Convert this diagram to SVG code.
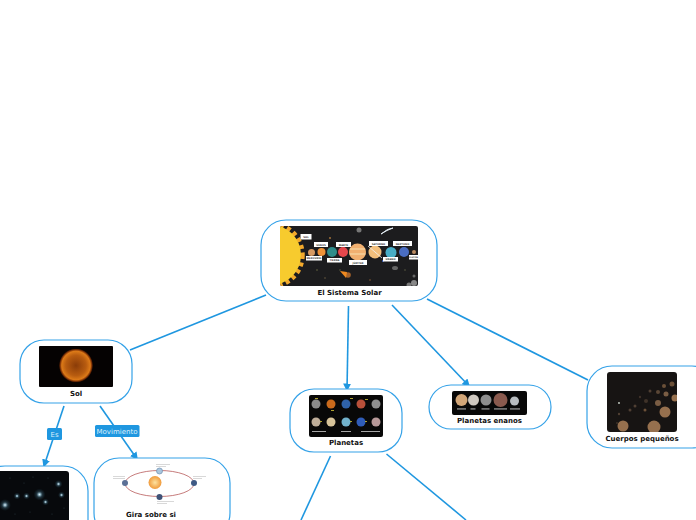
<svg xmlns="http://www.w3.org/2000/svg" width="696" height="520" viewBox="0 0 696 520">
<style>
.box{fill:#fff;stroke:#35a2e8;stroke-width:1.200}
.t{font:bold 7px "DejaVu Sans",sans-serif;fill:#111;text-anchor:middle}
.c{stroke:#1f97e0;stroke-width:1.600;fill:none;marker-end:url(#a)}
.n{stroke:#1f97e0;stroke-width:1.600;fill:none}
.lb{fill:#1f97e0}
.lt{font:7px "DejaVu Sans",sans-serif;fill:#dceffb;text-anchor:middle}
.tag{fill:#fff}
.tt{font:bold 2.500px "DejaVu Sans",sans-serif;fill:#333;text-anchor:middle}
.cap{fill:#cfcfcf}
.gc{fill:#c8c8c8}
.ym{fill:#d8c83a}
</style>
<defs>
<marker id="a" viewBox="0 0 8 8" refX="6.500" refY="4" markerWidth="8" markerHeight="8" markerUnits="userSpaceOnUse" orient="auto"><path d="M0 0L8 4L0 8z" fill="#1f97e0"/></marker>
<radialGradient id="sun"><stop offset="0" stop-color="#8a3c08"/><stop offset=".6" stop-color="#b85c10"/><stop offset=".84" stop-color="#dc7a18"/><stop offset=".93" stop-color="#7c3006"/><stop offset="1" stop-color="#140601"/></radialGradient>
<radialGradient id="ss"><stop offset="0" stop-color="#fde2a0"/><stop offset="1" stop-color="#f09a3a"/></radialGradient>
<radialGradient id="st"><stop offset="0" stop-color="#dfe9ee"/><stop offset=".18" stop-color="#8fb2c2"/><stop offset=".5" stop-color="#3a5c6c" stop-opacity=".5"/><stop offset="1" stop-color="#1a3a48" stop-opacity="0"/></radialGradient>
<clipPath id="c1"><rect x="280" y="226" width="138" height="60" rx="2"/></clipPath>
<clipPath id="c2"><rect x="607" y="372" width="70" height="60" rx="3"/></clipPath>
</defs>
<g id="connectors">
<path class="n" d="M266 295L130 350"/>
<path class="c" d="M348.500 306L347 390"/>
<path class="c" d="M392 305L469 386"/>
<path class="n" d="M427 299L588 380"/>
<path class="c" d="M64 406L44 466"/>
<path class="c" d="M100 406L137 459"/>
<path class="n" d="M330.500 456L301 520"/>
<path class="n" d="M386.500 454L466 520"/>
</g>
<g id="label-es"><rect class="lb" x="47" y="428" width="15" height="12" rx="1.500"/><text class="lt" x="54.500" y="436.500">Es</text></g>
<g id="label-movimiento"><rect class="lb" x="95" y="425" width="44.500" height="12" rx="1.500"/><text class="lt" x="117" y="433.500">Movimiento</text></g>
<g id="node-root">
<rect class="box" x="261" y="220" width="176" height="81" rx="25"/>
<rect x="280" y="226" width="138" height="60" rx="2" fill="#1c1c1e"/>
<g clip-path="url(#c1)">
<circle cx="271" cy="255" r="31.500" fill="none" stroke="#f3a92c" stroke-width="4.500" stroke-dasharray="4 3.500"/>
<circle cx="271" cy="255" r="30" fill="#f7cb2e"/>
<circle cx="359" cy="230" r="2.500" fill="#777"/>
<path d="M381 234Q388 228 393 228Q387 230 381 234z" fill="#dfe8ee" stroke="#dfe8ee" stroke-width="1"/>
<circle cx="348" cy="275" r="2.800" fill="#a5622a"/><path d="M340 271L347 272L346 278z" fill="#f08a20"/>
<ellipse cx="395" cy="268" rx="3" ry="2" fill="#666"/><circle cx="383" cy="261" r="1" fill="#3a5fc0"/>
<circle cx="409" cy="285" r="2.500" fill="#777"/><circle cx="414" cy="283" r="3" fill="#888"/><circle cx="414" cy="276" r="1.500" fill="#666"/>
<circle cx="330" cy="238" r="1" fill="#a0703a"/><circle cx="340" cy="270" r=".7" fill="#6a6a4a"/><circle cx="370" cy="280" r=".7" fill="#a06a3a"/><circle cx="405" cy="270" r=".7" fill="#6a6a4a"/><circle cx="317" cy="270" r=".7" fill="#7a7a4a"/><circle cx="325" cy="278" r=".7" fill="#7a6a4a"/>
</g>
<circle cx="311.500" cy="252.500" r="3.500" fill="#d69a62"/>
<circle cx="321.500" cy="252" r="4" fill="#ee9238"/>
<circle cx="332" cy="252" r="5" fill="#2f8c8a"/>
<circle cx="343" cy="252" r="5" fill="#e6474c"/>
<circle cx="357.500" cy="252" r="8.500" fill="#f1b070"/>
<path d="M350 249h15M349.500 254h16" stroke="#f8e0b0" stroke-width="1.200"/>
<circle cx="375" cy="252" r="6.500" fill="#f3bf7c"/>
<path d="M368 246L382 258" stroke="#f2f2f2" stroke-width=".8"/>
<circle cx="391" cy="252.500" r="5.500" fill="#48adc6"/>
<circle cx="404" cy="252" r="5" fill="#4a6dc2"/>
<circle cx="414" cy="252" r="2" fill="#b98a60"/>
<rect class="tag" x="300.500" y="234" width="11" height="5.500"/><text class="tt" x="306" y="237.800">SOL</text>
<rect class="tag" x="314" y="242" width="14" height="5"/><text class="tt" x="321" y="245.500">VENUS</text>
<rect class="tag" x="336" y="242" width="15" height="5"/><text class="tt" x="343.500" y="245.500">MARTE</text>
<rect class="tag" x="369" y="241" width="19" height="5"/><text class="tt" x="378.500" y="244.500">SATURNO</text>
<rect class="tag" x="393" y="241" width="19" height="5"/><text class="tt" x="402.500" y="244.500">NEPTUNO</text>
<rect class="tag" x="306" y="256" width="16" height="4.500"/><text class="tt" x="314" y="259.300">MERCURIO</text>
<rect class="tag" x="327" y="258" width="15" height="4.500"/><text class="tt" x="334.500" y="261.300">TIERRA</text>
<rect class="tag" x="349" y="260" width="18" height="5"/><text class="tt" x="358" y="263.500">JÚPITER</text>
<rect class="tag" x="383" y="257" width="15" height="4.500"/><text class="tt" x="390.500" y="260.300">URANO</text>
<rect class="tag" x="409" y="255" width="9" height="4.500"/><text class="tt" x="413.500" y="258.200" style="font-size:2px">PLUTÓN</text>
<text class="t" x="349.500" y="295">El Sistema Solar</text>
</g>
<g id="node-sol">
<rect class="box" x="20" y="340" width="112" height="63" rx="24"/>
<rect x="39" y="346" width="74" height="41" rx="1" fill="#050202"/>
<circle cx="76" cy="365.500" r="17" fill="url(#sun)"/>
<text class="t" x="76" y="396">Sol</text>
</g>
<g id="node-estrellas">
<rect class="box" x="-20" y="466" width="108" height="80" rx="25"/>
<rect x="-10" y="471" width="79" height="60" rx="3" fill="#07090c"/>
<circle cx="5" cy="505" r="6" fill="url(#st)"/><circle cx="17" cy="496" r="3.500" fill="url(#st)"/><circle cx="26.500" cy="496" r="3.500" fill="url(#st)"/><circle cx="39.500" cy="494.500" r="6" fill="url(#st)"/><circle cx="45.500" cy="502" r="3.500" fill="url(#st)"/><circle cx="58.500" cy="484" r="4" fill="url(#st)"/><circle cx="61.500" cy="495" r="3.500" fill="url(#st)"/>
<g fill="#26343c"><circle cx="10" cy="478" r=".6"/><circle cx="24" cy="483" r=".6"/><circle cx="33" cy="477" r=".6"/><circle cx="48" cy="478" r=".6"/><circle cx="64" cy="508" r=".6"/><circle cx="30" cy="512" r=".6"/><circle cx="52" cy="514" r=".6"/><circle cx="15" cy="514" r=".6"/></g>
</g>
<g id="node-gira">
<rect class="box" x="94" y="458" width="136" height="80" rx="25"/>
<ellipse cx="159.500" cy="483.500" rx="34.500" ry="13" fill="none" stroke="#b85a5a" stroke-width=".8"/>
<circle cx="155" cy="482.500" r="6.500" fill="url(#ss)"/>
<circle cx="159.500" cy="471" r="3" fill="#a9c6de" stroke="#6f8fb0" stroke-width=".7"/>
<circle cx="125" cy="483" r="3" fill="#5b7096"/>
<circle cx="194" cy="483" r="3" fill="#3f5a84"/>
<circle cx="159.500" cy="497" r="3" fill="#3f5277"/>
<g class="gc"><rect x="156" y="464" width="14" height=".7"/><rect x="156" y="466" width="10" height=".7"/><rect x="113" y="476" width="12" height=".7"/><rect x="113" y="478" width="12" height=".7"/><rect x="193" y="476" width="13" height=".7"/><rect x="193" y="478" width="9" height=".7"/><rect x="157" y="501" width="17" height=".7"/><rect x="157" y="503" width="10" height=".7"/></g>
<text class="t" x="151" y="517">Gira sobre si</text>
</g>
<g id="node-planetas">
<rect class="box" x="290" y="389" width="112" height="63" rx="24"/>
<rect x="309" y="395" width="74" height="42" rx="2" fill="#080808"/>
<circle cx="316" cy="404" r="4.500" fill="#8b8b8b"/><circle cx="331" cy="404" r="4.500" fill="#c96a1c"/><circle cx="346" cy="404" r="4.500" fill="#2f62a8"/><circle cx="361" cy="404" r="4.500" fill="#b8503a"/><circle cx="376" cy="404" r="4.500" fill="#8f8f8f"/>
<circle cx="316" cy="422" r="4.500" fill="#bfae9a"/><circle cx="331" cy="422" r="4.500" fill="#d8c49a"/><circle cx="346" cy="422" r="4.500" fill="#72b2cc"/><circle cx="361" cy="422" r="4.500" fill="#2f5cb8"/><circle cx="376" cy="422" r="4.500" fill="#b89a9a"/>
<g class="ym"><rect x="315" y="398" width="3" height=".8"/><rect x="331" y="410" width="3" height=".8"/><rect x="350" y="398" width="3" height=".8"/><rect x="365" y="399" width="3" height=".8"/><rect x="320" y="421" width="2" height=".8"/><rect x="350" y="421" width="2" height=".8"/><rect x="365" y="421" width="2" height=".8"/></g>
<g class="cap"><rect x="312" y="431" width="14" height=".8"/><rect x="341" y="431" width="10" height=".8"/><rect x="361" y="431" width="19" height=".8"/></g>
<text class="t" x="346" y="444.500">Planetas</text>
</g>
<g id="node-enanos">
<rect class="box" x="429" y="385" width="122" height="44" rx="22"/>
<rect x="452" y="391" width="75" height="24" rx="2" fill="#080808"/>
<circle cx="461.500" cy="400" r="6" fill="#d2a678"/><circle cx="473.500" cy="400" r="5.500" fill="#cfc8c0"/><circle cx="486" cy="400" r="5.500" fill="#8e8e8e"/><circle cx="500.500" cy="400" r="7" fill="#8a5a4e"/><circle cx="514.500" cy="401" r="4.500" fill="#b8bcc0"/>
<g class="cap"><rect x="457" y="408.500" width="9" height=".9"/><rect x="470.500" y="408.500" width="5" height=".9"/><rect x="481.500" y="408.500" width="8" height=".9"/><rect x="494" y="408.500" width="13" height=".9"/><rect x="510" y="408.500" width="10" height=".9"/></g>
<text class="t" x="489.500" y="423">Planetas enanos</text>
</g>
<g id="node-cuerpos">
<rect class="box" x="587" y="366" width="130" height="82" rx="25"/>
<rect x="607" y="372" width="70" height="60" rx="3" fill="#171413"/>
<g clip-path="url(#c2)" fill="#96704e">
<circle cx="623" cy="426" r="5.500"/><circle cx="654" cy="427" r="6.500"/><circle cx="665" cy="412" r="5.500"/><circle cx="658" cy="403" r="3" fill="#7a5d44"/><circle cx="675" cy="398" r="3.500"/><circle cx="666" cy="394" r="2.500" fill="#7a5d44"/><circle cx="672" cy="384" r="2.500" fill="#6b5038"/><circle cx="664" cy="386" r="2" fill="#6b5038"/><circle cx="658" cy="392" r="2" fill="#5a4636"/><circle cx="650" cy="391" r="1.500" fill="#4f3f33"/><circle cx="646" cy="401" r="2" fill="#3f3229"/><circle cx="645" cy="410" r="1.500" fill="#6b5038"/><circle cx="635" cy="406" r="1.500" fill="#4f3f33"/><circle cx="630" cy="410" r="1.500" fill="#4f3f33"/><circle cx="640" cy="397" r="1.200" fill="#3f3229"/><circle cx="619" cy="414" r="1.200" fill="#4f3f33"/><circle cx="617" cy="423" r="1" fill="#3f3229"/><circle cx="619" cy="403" r=".9" fill="#cfd8cf"/>
</g>
<text class="t" x="642" y="440.500">Cuerpos pequeños</text>
</g>
</svg>
